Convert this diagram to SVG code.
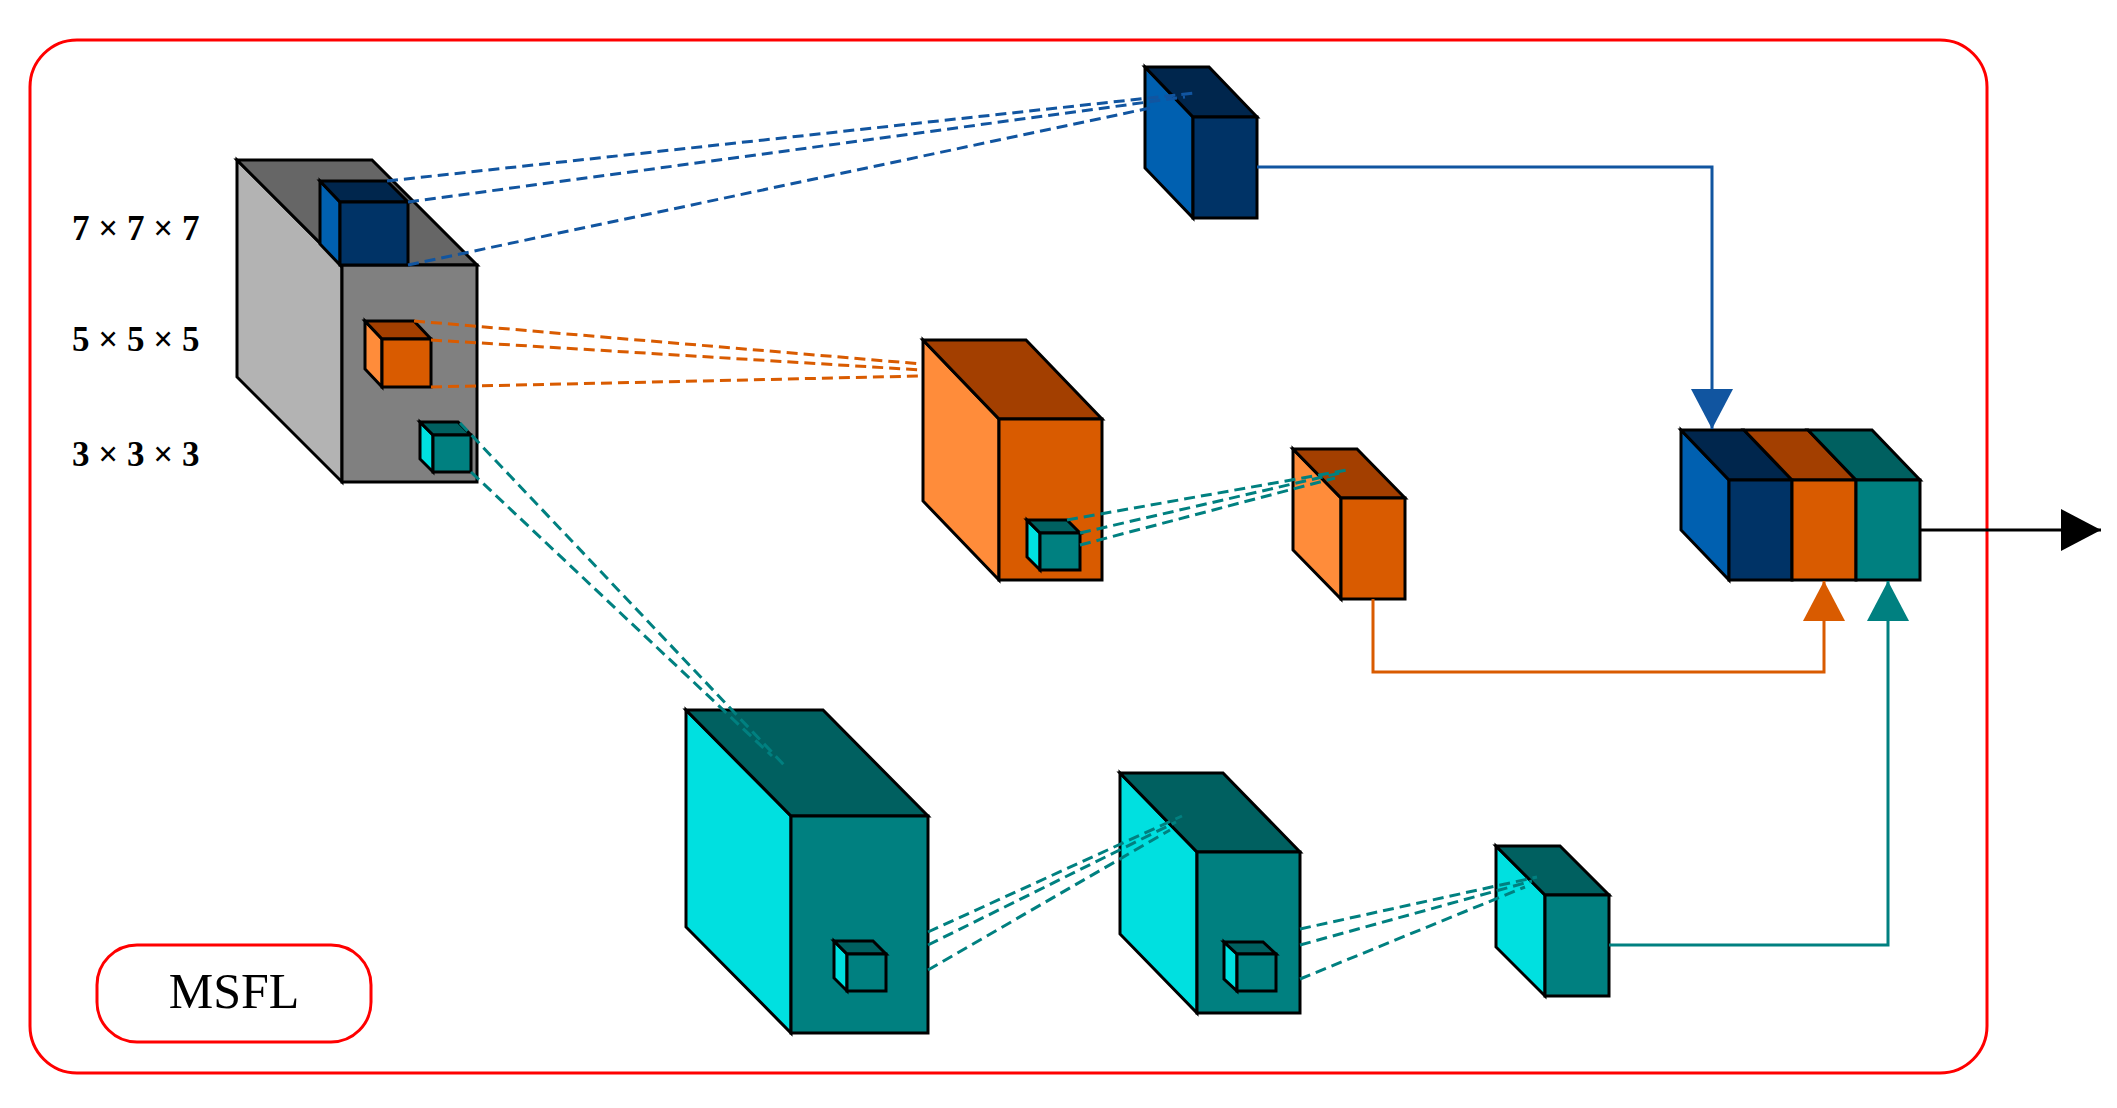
<svg xmlns="http://www.w3.org/2000/svg" width="2117" height="1108" viewBox="0 0 2117 1108">
<style>
.o{stroke:#000;stroke-width:3;stroke-linejoin:miter}
.gl{fill:#B3B3B3}.gt{fill:#666}.gf{fill:#808080}
.bl{fill:#0060B0}.bt{fill:#00264D}.bf{fill:#003366}
.ol{fill:#FF8C3A}.ot{fill:#A33F00}.of{fill:#D95B00}
.tl{fill:#00E0E0}.tt{fill:#006060}.tf{fill:#008080}
.d{fill:none;stroke-width:3;stroke-dasharray:11 6}
.lbl{font-family:"Liberation Serif",serif;font-weight:bold;font-size:35px}
</style>
<defs>
<marker id="ab" markerWidth="42" markerHeight="42" refX="40" refY="21" orient="auto" markerUnits="userSpaceOnUse"><path d="M0,0 L40,21 L0,42 Z" fill="#1155A0"/></marker>
<marker id="ao" markerWidth="42" markerHeight="42" refX="40" refY="21" orient="auto" markerUnits="userSpaceOnUse"><path d="M0,0 L40,21 L0,42 Z" fill="#D95B00"/></marker>
<marker id="at" markerWidth="42" markerHeight="42" refX="40" refY="21" orient="auto" markerUnits="userSpaceOnUse"><path d="M0,0 L40,21 L0,42 Z" fill="#008080"/></marker>
<marker id="ak" markerWidth="42" markerHeight="42" refX="40" refY="21" orient="auto" markerUnits="userSpaceOnUse"><path d="M0,0 L40,21 L0,42 Z" fill="#000"/></marker>
</defs>
<rect x="30" y="40" width="1957" height="1033" rx="47" fill="#fff" stroke="#FF0000" stroke-width="3"/>
<g id="msfl"><rect x="97" y="945" width="274" height="97" rx="40" fill="#fff" stroke="#FF0000" stroke-width="3"/>
<text x="234" y="1008" text-anchor="middle" font-family="Liberation Serif,serif" font-size="50">MSFL</text></g>
<g id="labels"><text class="lbl" x="72" y="240">7 × 7 × 7</text><text class="lbl" x="72" y="351">5 × 5 × 5</text><text class="lbl" x="72" y="466">3 × 3 × 3</text></g>

<g id="input">
<polygon class="o gl" points="237,160 342,265 342,482 237,377"/>
<polygon class="o gt" points="237,160 372,160 477,265 342,265"/>
<rect class="o gf" x="342" y="265" width="135" height="217"/>
<polygon class="o bl" points="320,181 340,202 340,265 320,244"/>
<polygon class="o bt" points="320,181 387,181 408,202 340,202"/>
<rect class="o bf" x="340" y="202" width="68" height="63"/>
<polygon class="o ol" points="365,321 382,339 382,387 365,369"/>
<polygon class="o ot" points="365,321 414,321 431,339 382,339"/>
<rect class="o of" x="382" y="339" width="49" height="48"/>
<polygon class="o tl" points="420,422 433,435 433,472 420,459"/>
<polygon class="o tt" points="420,422 458,422 471,435 433,435"/>
<rect class="o tf" x="433" y="435" width="38" height="37"/>
</g>

<g id="blue1">
<polygon class="o bl" points="1145,67 1193,117 1193,218 1145,168"/>
<polygon class="o bt" points="1145,67 1209,67 1257,117 1193,117"/>
<rect class="o bf" x="1193" y="117" width="64" height="101"/>
</g>

<g id="orange1">
<polygon class="o ol" points="923,340 999,419 999,580 923,501"/>
<polygon class="o ot" points="923,340 1026,340 1102,419 999,419"/>
<rect class="o of" x="999" y="419" width="103" height="161"/>
<polygon class="o tl" points="1027,520 1040,533 1040,570 1027,557"/>
<polygon class="o tt" points="1027,520 1067,520 1080,533 1040,533"/>
<rect class="o tf" x="1040" y="533" width="40" height="37"/>
</g>

<g id="orange2">
<polygon class="o ol" points="1293,449 1341,498 1341,599 1293,550"/>
<polygon class="o ot" points="1293,449 1357,449 1405,498 1341,498"/>
<rect class="o of" x="1341" y="498" width="64" height="101"/>
</g>

<g id="teal1">
<polygon class="o tl" points="686,710 791,816 791,1033 686,927"/>
<polygon class="o tt" points="686,710 823,710 928,816 791,816"/>
<rect class="o tf" x="791" y="816" width="137" height="217"/>
<polygon class="o tl" points="834,941 847,954 847,991 834,978"/>
<polygon class="o tt" points="834,941 873,941 886,954 847,954"/>
<rect class="o tf" x="847" y="954" width="39" height="37"/>
</g>

<g id="teal2">
<polygon class="o tl" points="1120,773 1197,852 1197,1013 1120,934"/>
<polygon class="o tt" points="1120,773 1223,773 1300,852 1197,852"/>
<rect class="o tf" x="1197" y="852" width="103" height="161"/>
<polygon class="o tl" points="1224,942 1237,954 1237,991 1224,979"/>
<polygon class="o tt" points="1224,942 1263,942 1276,954 1237,954"/>
<rect class="o tf" x="1237" y="954" width="39" height="37"/>
</g>

<g id="teal3">
<polygon class="o tl" points="1496,846 1545,895 1545,996 1496,947"/>
<polygon class="o tt" points="1496,846 1560,846 1609,895 1545,895"/>
<rect class="o tf" x="1545" y="895" width="64" height="101"/>
</g>

<g id="concat">
<polygon class="o bl" points="1681,430 1729,480 1729,580 1681,530"/>
<polygon class="o bt" points="1681,430 1744,430 1792,480 1729,480"/>
<polygon class="o ot" points="1744,430 1808,430 1856,480 1792,480"/>
<polygon class="o tt" points="1808,430 1872,430 1920,480 1856,480"/>
<rect class="o bf" x="1729" y="480" width="63" height="100"/>
<rect class="o of" x="1792" y="480" width="64" height="100"/>
<rect class="o tf" x="1856" y="480" width="64" height="100"/>
</g>

<g id="connectors">
<g stroke="#1155A0" class="d">
<line x1="387" y1="181" x2="1195" y2="93"/>
<line x1="408" y1="202" x2="1185" y2="97"/>
<line x1="408" y1="265" x2="1150" y2="108"/>
</g>
<g stroke="#D95B00" class="d">
<line x1="414" y1="321" x2="922" y2="364"/>
<line x1="431" y1="340" x2="922" y2="370"/>
<line x1="431" y1="387" x2="922" y2="376"/>
</g>
<g stroke="#008080" class="d">
<line x1="460" y1="423" x2="785" y2="766"/>
<line x1="471" y1="472" x2="772" y2="756"/>
<line x1="1067" y1="520" x2="1347" y2="470"/>
<line x1="1080" y1="533" x2="1340" y2="473"/>
<line x1="1080" y1="545" x2="1335" y2="478"/>
<line x1="928" y1="932" x2="1182" y2="816"/>
<line x1="928" y1="945" x2="1176" y2="822"/>
<line x1="928" y1="970" x2="1170" y2="830"/>
<line x1="1300" y1="929" x2="1537" y2="877"/>
<line x1="1300" y1="945" x2="1532" y2="881"/>
<line x1="1300" y1="979" x2="1525" y2="887"/>
</g>
<polyline points="1257,167 1712,167 1712,429" fill="none" stroke="#1155A0" stroke-width="3" marker-end="url(#ab)"/>
<polyline points="1373,599 1373,672 1824,672 1824,581" fill="none" stroke="#D95B00" stroke-width="3" marker-end="url(#ao)"/>
<polyline points="1609,945 1888,945 1888,581" fill="none" stroke="#008080" stroke-width="3" marker-end="url(#at)"/>
<line x1="1920" y1="530" x2="2101" y2="530" stroke="#000" stroke-width="3" marker-end="url(#ak)"/>
</g>
</svg>
